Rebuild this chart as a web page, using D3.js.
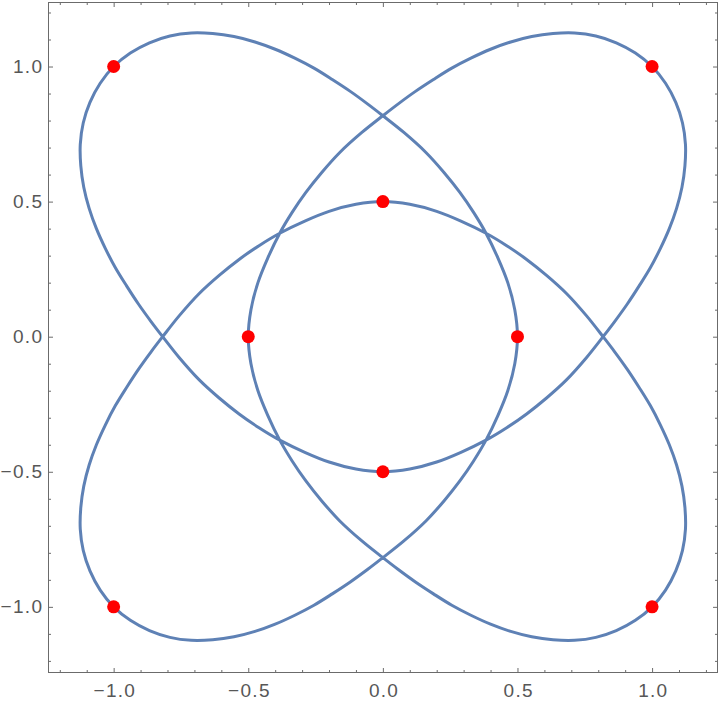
<!DOCTYPE html>
<html>
<head>
<meta charset="utf-8">
<script src="https://cdn.jsdelivr.net/npm/d3@7"></script>
<style>
  body { margin: 0; background: #fff; }
  svg { display: block; }
  .lbl text { font-family: "Liberation Sans", Arial, sans-serif; font-size: 19px; letter-spacing: 1.3px; }
</style>
</head>
<body>
<script>

// Red points the curve passes through, in the order it visits them
var markerX = [0.5, -1, 0, 1, -0.5, 1, 0, -1];
var markerY = [0, 1, -0.5, 1, 0, -1, 0.5, -1];

// Curve, going round once from (0.5, 0)
var curvePoints = [
    // (0.5, 0) -> (-1, 1)
    [0.5, 0], [0.49, 0.1], [0.464, 0.2], [0.428, 0.29], [0.383, 0.383], [0.337, 0.46], [0.286, 0.534], [0.227, 0.608],
    [0.16, 0.682], [0.078, 0.756], [0, 0.818], [-0.056, 0.861], [-0.121, 0.908], [-0.188, 0.952], [-0.256, 0.994], [-0.327, 1.031],
    [-0.4, 1.064], [-0.475, 1.091], [-0.553, 1.111], [-0.632, 1.122], [-0.712, 1.124], [-0.791, 1.113], [-0.867, 1.088], [-0.938, 1.05],
    // (-1, 1) -> (0, -0.5)
    [-1, 1], [-1.05, 0.938], [-1.088, 0.867], [-1.113, 0.791], [-1.124, 0.712], [-1.122, 0.632], [-1.111, 0.553], [-1.091, 0.475],
    [-1.064, 0.4], [-1.031, 0.327], [-0.994, 0.256], [-0.952, 0.188], [-0.908, 0.121], [-0.861, 0.056], [-0.818, 0], [-0.756, -0.078],
    [-0.682, -0.16], [-0.608, -0.227], [-0.534, -0.286], [-0.46, -0.337], [-0.383, -0.383], [-0.29, -0.428], [-0.2, -0.464], [-0.1, -0.49],
    // (0, -0.5) -> (1, 1)
    [0, -0.5], [0.1, -0.49], [0.2, -0.464], [0.29, -0.428], [0.383, -0.383], [0.46, -0.337], [0.534, -0.286], [0.608, -0.227],
    [0.682, -0.16], [0.756, -0.078], [0.818, 0], [0.861, 0.056], [0.908, 0.121], [0.952, 0.188], [0.994, 0.256], [1.031, 0.327],
    [1.064, 0.4], [1.091, 0.475], [1.111, 0.553], [1.122, 0.632], [1.124, 0.712], [1.113, 0.791], [1.088, 0.867], [1.05, 0.938],
    // (1, 1) -> (-0.5, 0)
    [1, 1], [0.938, 1.05], [0.867, 1.088], [0.791, 1.113], [0.712, 1.124], [0.632, 1.122], [0.553, 1.111], [0.475, 1.091],
    [0.4, 1.064], [0.327, 1.031], [0.256, 0.994], [0.188, 0.952], [0.121, 0.908], [0.056, 0.861], [0, 0.818], [-0.078, 0.756],
    [-0.16, 0.682], [-0.227, 0.608], [-0.286, 0.534], [-0.337, 0.46], [-0.383, 0.383], [-0.428, 0.29], [-0.464, 0.2], [-0.49, 0.1],
    // (-0.5, 0) -> (1, -1)
    [-0.5, 0], [-0.49, -0.1], [-0.464, -0.2], [-0.428, -0.29], [-0.383, -0.383], [-0.337, -0.46], [-0.286, -0.534], [-0.227, -0.608],
    [-0.16, -0.682], [-0.078, -0.756], [0, -0.818], [0.056, -0.861], [0.121, -0.908], [0.188, -0.952], [0.256, -0.994], [0.327, -1.031],
    [0.4, -1.064], [0.475, -1.091], [0.553, -1.111], [0.632, -1.122], [0.712, -1.124], [0.791, -1.113], [0.867, -1.088], [0.938, -1.05],
    // (1, -1) -> (0, 0.5)
    [1, -1], [1.05, -0.938], [1.088, -0.867], [1.113, -0.791], [1.124, -0.712], [1.122, -0.632], [1.111, -0.553], [1.091, -0.475],
    [1.064, -0.4], [1.031, -0.327], [0.994, -0.256], [0.952, -0.188], [0.908, -0.121], [0.861, -0.056], [0.818, 0], [0.756, 0.078],
    [0.682, 0.16], [0.608, 0.227], [0.534, 0.286], [0.46, 0.337], [0.383, 0.383], [0.29, 0.428], [0.2, 0.464], [0.1, 0.49],
    // (0, 0.5) -> (-1, -1)
    [0, 0.5], [-0.1, 0.49], [-0.2, 0.464], [-0.29, 0.428], [-0.383, 0.383], [-0.46, 0.337], [-0.534, 0.286], [-0.608, 0.227],
    [-0.682, 0.16], [-0.756, 0.078], [-0.818, 0], [-0.861, -0.056], [-0.908, -0.121], [-0.952, -0.188], [-0.994, -0.256], [-1.031, -0.327],
    [-1.064, -0.4], [-1.091, -0.475], [-1.111, -0.553], [-1.122, -0.632], [-1.124, -0.712], [-1.113, -0.791], [-1.088, -0.867], [-1.05, -0.938],
    // (-1, -1) -> (0.5, 0)
    [-1, -1], [-0.938, -1.05], [-0.867, -1.088], [-0.791, -1.113], [-0.712, -1.124], [-0.632, -1.122], [-0.553, -1.111], [-0.475, -1.091],
    [-0.4, -1.064], [-0.327, -1.031], [-0.256, -0.994], [-0.188, -0.952], [-0.121, -0.908], [-0.056, -0.861], [0, -0.818], [0.078, -0.756],
    [0.16, -0.682], [0.227, -0.608], [0.286, -0.534], [0.337, -0.46], [0.383, -0.383], [0.428, -0.29], [0.464, -0.2], [0.49, -0.1]
];

// Ticks
var majorTicks = [-1, -0.5, 0, 0.5, 1];
var majorLabels = ["\u22121.0", "\u22120.5", "0.0", "0.5", "1.0"];
var minorTicks = [-1.2, -1.1, -0.9, -0.8, -0.7, -0.6, -0.4, -0.3, -0.2, -0.1,
                  0.1, 0.2, 0.3, 0.4, 0.6, 0.7, 0.8, 0.9, 1.1, 1.2];

var width = 720;
var height = 704;
var frame = {left: 48.5, right: 717.5, top: 2.5, bottom: 672.5};

var x = d3.scaleLinear()
    .domain([-1.242, 1.243])
    .range([frame.left, frame.right]);

var y = d3.scaleLinear()
    .domain([-1.243, 1.237])
    .range([frame.bottom, frame.top]);

var svg = d3.select("body")
    .append("svg")
    .attr("width", width)
    .attr("height", height);

var frameColor = "#6b6b6b";
var labelFor = function(v){ return majorLabels[majorTicks.indexOf(v)]; };

// One side of the frame: inward ticks, labels only where asked
function side(axisFn, transform, ticks, size, labels){
    var g = svg.append("g")
        .attr("class", "lbl")
        .attr("transform", transform)
        .call(axisFn
            .tickValues(ticks)
            .tickSizeInner(-size)
            .tickSizeOuter(0)
            .tickFormat(labels ? labelFor : function(){ return ""; }));
    g.attr("font-size", 19)
        .attr("font-family", "Liberation Sans, Arial, sans-serif");
    g.select(".domain").remove();
    g.selectAll(".tick line").attr("stroke", frameColor);
    g.selectAll("text")
        .attr("fill", "#575757")
        .attr("font-size", 19);
    return g;
}

side(d3.axisBottom(x), "translate(0," + frame.bottom + ")", majorTicks, 4.5, true)
    .selectAll("text").attr("y", 11).attr("x", 0.7);
side(d3.axisBottom(x), "translate(0," + frame.bottom + ")", minorTicks, 2.5, false);

side(d3.axisLeft(y), "translate(" + frame.left + ",0)", majorTicks, 4.5, true)
    .selectAll("text").attr("x", -5.2);
side(d3.axisLeft(y), "translate(" + frame.left + ",0)", minorTicks, 2.5, false);

side(d3.axisTop(x), "translate(0," + frame.top + ")", majorTicks, 4.5, false);
side(d3.axisTop(x), "translate(0," + frame.top + ")", minorTicks, 2.5, false);
side(d3.axisRight(y), "translate(" + frame.right + ",0)", majorTicks, 4.5, false);
side(d3.axisRight(y), "translate(" + frame.right + ",0)", minorTicks, 2.5, false);

svg.append("rect")
    .attr("x", frame.left)
    .attr("y", frame.top)
    .attr("width", frame.right - frame.left)
    .attr("height", frame.bottom - frame.top)
    .attr("fill", "none")
    .attr("stroke", frameColor)
    .attr("stroke-width", 1);

// The curve
var line = d3.line()
    .x(d => x(d[0]))
    .y(d => y(d[1]))
    .curve(d3.curveCatmullRomClosed.alpha(0.5));

svg.append("path")
    .datum(curvePoints)
    .attr("d", line)
    .attr("fill", "none")
    .attr("stroke", "#5e81b5")
    .attr("stroke-width", 3);

// The points
svg.selectAll("circle.pt")
    .data(markerX)
    .enter()
    .append("circle")
    .attr("class", "pt")
    .attr("cx", d => x(d))
    .attr("cy", (d, i) => y(markerY[i]))
    .attr("r", 6.5)
    .attr("fill", "#ff0000");

</script>
</body>
</html>
